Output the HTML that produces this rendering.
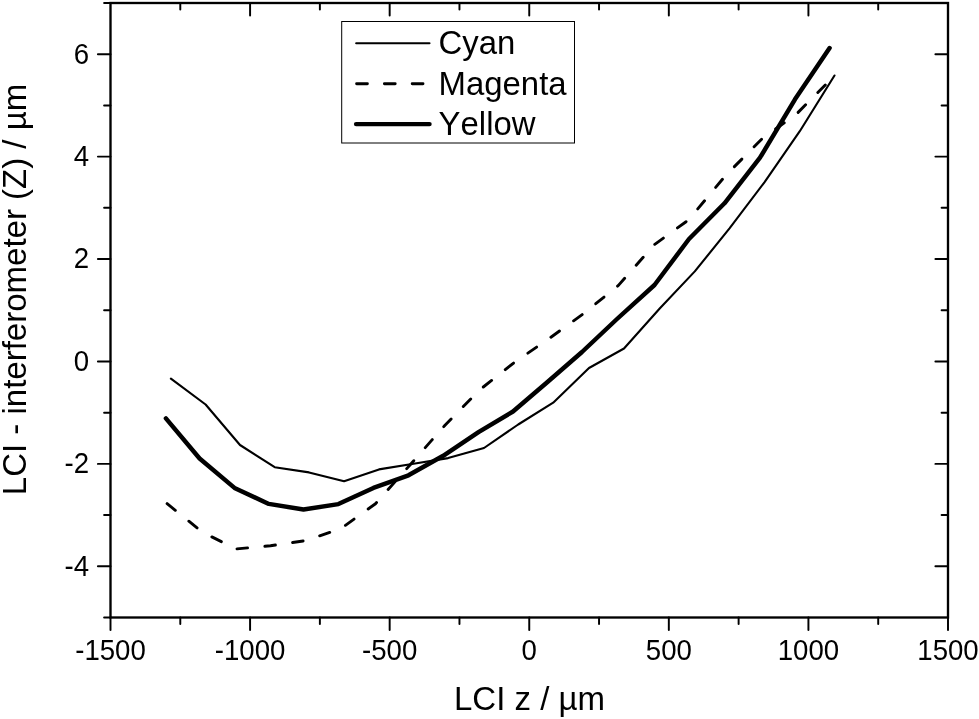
<!DOCTYPE html>
<html lang="en"><head><meta charset="utf-8"><title>LCI - interferometer (Z) vs LCI z</title>
<style>html,body{margin:0;padding:0;background:#fff;}body{width:979px;height:719px;overflow:hidden;}svg{display:block;}text{font-kerning:none;font-family:"Liberation Sans",Arial,Helvetica,sans-serif;fill:#000;}</style>
</head><body>
<svg width="979" height="719" viewBox="0 0 979 719">
<rect x="0" y="0" width="979" height="719" fill="#ffffff"/>
<g stroke="#000" stroke-width="2.35" stroke-linecap="butt" fill="none">
<rect x="110.50" y="3.00" width="837.50" height="614.50"/>
</g>
<g stroke="#000" stroke-width="1.95" stroke-linecap="round" fill="none">
<line x1="110.50" y1="617.50" x2="110.50" y2="630.10"/>
<line x1="180.29" y1="617.50" x2="180.29" y2="623.90"/>
<line x1="180.29" y1="3.00" x2="180.29" y2="9.40"/>
<line x1="250.08" y1="617.50" x2="250.08" y2="630.10"/>
<line x1="250.08" y1="3.00" x2="250.08" y2="15.60"/>
<line x1="319.88" y1="617.50" x2="319.88" y2="623.90"/>
<line x1="319.88" y1="3.00" x2="319.88" y2="9.40"/>
<line x1="389.67" y1="617.50" x2="389.67" y2="630.10"/>
<line x1="389.67" y1="3.00" x2="389.67" y2="15.60"/>
<line x1="459.46" y1="617.50" x2="459.46" y2="623.90"/>
<line x1="459.46" y1="3.00" x2="459.46" y2="9.40"/>
<line x1="529.25" y1="617.50" x2="529.25" y2="630.10"/>
<line x1="529.25" y1="3.00" x2="529.25" y2="15.60"/>
<line x1="599.04" y1="617.50" x2="599.04" y2="623.90"/>
<line x1="599.04" y1="3.00" x2="599.04" y2="9.40"/>
<line x1="668.83" y1="617.50" x2="668.83" y2="630.10"/>
<line x1="668.83" y1="3.00" x2="668.83" y2="15.60"/>
<line x1="738.62" y1="617.50" x2="738.62" y2="623.90"/>
<line x1="738.62" y1="3.00" x2="738.62" y2="9.40"/>
<line x1="808.42" y1="617.50" x2="808.42" y2="630.10"/>
<line x1="808.42" y1="3.00" x2="808.42" y2="15.60"/>
<line x1="878.21" y1="617.50" x2="878.21" y2="623.90"/>
<line x1="878.21" y1="3.00" x2="878.21" y2="9.40"/>
<line x1="948.00" y1="617.50" x2="948.00" y2="630.10"/>
<line x1="110.50" y1="617.50" x2="104.10" y2="617.50"/>
<line x1="110.50" y1="566.29" x2="97.90" y2="566.29"/>
<line x1="948.00" y1="566.29" x2="935.40" y2="566.29"/>
<line x1="110.50" y1="515.08" x2="104.10" y2="515.08"/>
<line x1="948.00" y1="515.08" x2="941.60" y2="515.08"/>
<line x1="110.50" y1="463.88" x2="97.90" y2="463.88"/>
<line x1="948.00" y1="463.88" x2="935.40" y2="463.88"/>
<line x1="110.50" y1="412.67" x2="104.10" y2="412.67"/>
<line x1="948.00" y1="412.67" x2="941.60" y2="412.67"/>
<line x1="110.50" y1="361.46" x2="97.90" y2="361.46"/>
<line x1="948.00" y1="361.46" x2="935.40" y2="361.46"/>
<line x1="110.50" y1="310.25" x2="104.10" y2="310.25"/>
<line x1="948.00" y1="310.25" x2="941.60" y2="310.25"/>
<line x1="110.50" y1="259.04" x2="97.90" y2="259.04"/>
<line x1="948.00" y1="259.04" x2="935.40" y2="259.04"/>
<line x1="110.50" y1="207.83" x2="104.10" y2="207.83"/>
<line x1="948.00" y1="207.83" x2="941.60" y2="207.83"/>
<line x1="110.50" y1="156.62" x2="97.90" y2="156.62"/>
<line x1="948.00" y1="156.62" x2="935.40" y2="156.62"/>
<line x1="110.50" y1="105.42" x2="104.10" y2="105.42"/>
<line x1="948.00" y1="105.42" x2="941.60" y2="105.42"/>
<line x1="110.50" y1="54.21" x2="97.90" y2="54.21"/>
<line x1="948.00" y1="54.21" x2="935.40" y2="54.21"/>
<line x1="110.50" y1="3.00" x2="104.10" y2="3.00"/>
</g>
<g font-size="27.60">
<text transform="translate(110.50,660.4) scale(1,1.05)" text-anchor="middle">-1500</text>
<text transform="translate(250.08,660.4) scale(1,1.05)" text-anchor="middle">-1000</text>
<text transform="translate(389.67,660.4) scale(1,1.05)" text-anchor="middle">-500</text>
<text transform="translate(529.25,660.4) scale(1,1.05)" text-anchor="middle">0</text>
<text transform="translate(668.83,660.4) scale(1,1.05)" text-anchor="middle">500</text>
<text transform="translate(808.42,660.4) scale(1,1.05)" text-anchor="middle">1000</text>
<text transform="translate(948.00,660.4) scale(1,1.05)" text-anchor="middle">1500</text>
<text transform="translate(89.0,63.51) scale(1,1.05)" text-anchor="end">6</text>
<text transform="translate(89.0,165.93) scale(1,1.05)" text-anchor="end">4</text>
<text transform="translate(89.0,268.34) scale(1,1.05)" text-anchor="end">2</text>
<text transform="translate(89.0,370.76) scale(1,1.05)" text-anchor="end">0</text>
<text transform="translate(89.0,473.18) scale(1,1.05)" text-anchor="end">-2</text>
<text transform="translate(89.0,575.59) scale(1,1.05)" text-anchor="end">-4</text>
</g>
<text x="529.5" y="709.5" font-size="33.00" text-anchor="middle">LCI z / µm</text>
<text transform="translate(25.8,289.5) rotate(-90)" font-size="33.00" text-anchor="middle">LCI - interferometer (Z) / µm</text>
<g fill="none" stroke="#000" stroke-linejoin="round" stroke-linecap="round">
<polyline stroke-width="2.1" points="170.9,378.6 205.6,404.5 240.0,445.0 274.7,467.2 309.0,472.4 344.1,481.3 379.0,469.4 413.6,463.8 448.1,458.1 484.0,448.0 518.2,424.5 553.2,402.7 589.0,368.0 624.0,348.5 659.7,308.5 694.8,271.4 729.5,228.4 764.4,182.3 799.8,131.2 834.5,75.5"/>
<polyline stroke-width="2.9" stroke-dasharray="10.6 17.4" points="167.1,503.6 202.1,532.0 236.0,549.0 270.5,545.7 305.0,540.7 340.7,528.7 375.5,503.7 410.2,464.7 445.0,425.2 479.5,390.0 514.4,362.4 549.2,338.5 583.8,313.4 618.2,285.6 654.5,244.5 688.7,219.8 725.6,175.5 762.0,138.8 796.6,113.9 829.6,80.6"/>
<polyline stroke-width="4.45" points="165.9,418.4 199.6,458.5 234.5,487.9 268.8,503.9 303.5,509.5 338.4,504.1 373.4,487.9 408.5,475.3 443.2,455.8 478.5,432.2 513.0,411.5 547.5,382.0 582.0,352.0 617.0,319.0 654.5,285.0 689.0,239.0 724.5,203.3 760.0,157.7 795.0,99.3 829.6,48.0"/>
</g>
<rect x="341.7" y="21.5" width="232.8" height="121.5" fill="#fff" stroke="#000" stroke-width="1"/>
<g fill="none" stroke="#000" stroke-linecap="round">
<line x1="356.2" y1="43.2" x2="429.5" y2="43.2" stroke-width="2.1"/>
<line x1="356.6" y1="83.8" x2="430" y2="83.8" stroke-width="2.9" stroke-dasharray="10.8 17"/>
<line x1="356.1" y1="124.1" x2="429.5" y2="124.1" stroke-width="4.45"/>
</g>
<g font-size="32.90">
<text x="438.6" y="54.2">Cyan</text>
<text x="438.6" y="95">Magenta</text>
<text x="438.6" y="134.7">Yellow</text>
</g>
</svg></body></html>
